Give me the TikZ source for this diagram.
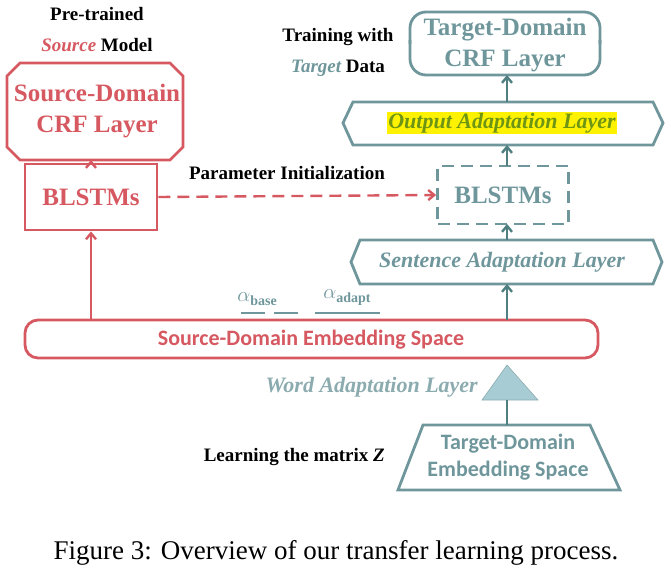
\documentclass[tikz,border=0pt]{standalone}
\usepackage{fontspec}
\setmainfont{Liberation Serif}
\newfontfamily\calib{Carlito}
\usetikzlibrary{arrows.meta}
\definecolor{rd}{HTML}{D65860}
\definecolor{tl}{HTML}{6E969B}
\definecolor{tla}{HTML}{4F7F80}
\definecolor{tri}{HTML}{A8CCD3}
\tikzset{
 rline/.style={draw=rd,line width=2.8pt},
 tline/.style={draw=tl,line width=2.8pt},
 rarr/.style={rd,line width=2.4pt,-{Straight Barb[length=6pt,width=10pt]}},
 tarr/.style={tla,line width=2.4pt,-{Straight Barb[length=6pt,width=10pt]}},
 lab/.style={font=\fontsize{19}{22}\selectfont\bfseries,align=center,inner sep=0},
 big/.style={font=\fontsize{25}{31}\selectfont\bfseries,align=center,inner sep=0},
 cal/.style={font=\fontsize{22}{27}\calib\bfseries,align=center,inner sep=0},
 ital/.style={font=\fontsize{22}{26}\selectfont\bfseries\itshape,inner sep=0},
}
\begin{document}
\begin{tikzpicture}[x=1pt,y=-1pt]
\useasboundingbox (0,0) rectangle (671,576);
% left column
\node[lab] (pt) at (97,14) {Pre-trained};
\node[lab] (sm) at (97,45) {\textcolor{rd}{\itshape Source} Model};
\draw[rline] (20,63) -- (170,63) -- (183,76) -- (183,147) -- (170,160) -- (20,160) -- (7,147) -- (7,76) -- cycle;
\node[big,text=rd] (scrf) at (97,111) {Source-Domain\\CRF Layer};
\node[rline,minimum width=132pt,minimum height=66pt,inner sep=0] (sb) at (91,197) {};
\node[big,text=rd] at (91,197) {BLSTMs};
\draw[rline,rounded corners=13pt] (25,320) rectangle (598,358);
\node[cal,text=rd] (emb) at (311,340) {Source-Domain Embedding Space};
\coordinate (e1) at (91,320);
\coordinate (c1) at (91,160);
\draw[rarr] (e1) -- (sb.south);
\draw[rarr] (sb.north) -- (c1);
% parameter init
\node[lab] (pi) at (287,173) {Parameter Initialization};
\node[draw=tl,dashed,dash pattern=on 12pt off 7pt,line width=2.8pt,minimum width=131pt,minimum height=58pt,inner sep=0] (tb) at (503,195) {};
\node[big,text=tl] at (503,195) {BLSTMs};
\draw[rarr,dash pattern=on 12pt off 7pt] (sb.east) -- (tb.west);
% right column
\node[lab] (tw) at (338,37) {Training with};
\node[lab] (td) at (338,68) {\textcolor{tl}{\itshape Target} Data};
\draw[tline,rounded corners=16pt] (410,44) -- (410,12) -- (600,12) -- (600,44);
\draw[tline,rounded corners=16pt] (600,40) -- (600,75) -- (410,75) -- (410,40);
\node[big,text=tl] (tcrf) at (505,45) {Target-Domain\\CRF Layer};
\draw[tline] (353,102) -- (653,102) -- (663,123) -- (653,145) -- (353,145) -- (343,123) -- cycle;
\node[ital,fill=yellow,inner sep=1pt,text={rgb,255:red,110;green,150;blue,20}] (oal) at (502,123) {Output Adaptation Layer};
\draw[tline] (360,240) -- (653,240) -- (662,262) -- (653,284) -- (360,284) -- (351,262) -- cycle;
\node[ital,text=tl] (sal) at (502,262) {Sentence Adaptation Layer};
\coordinate (o1) at (507,102); \coordinate (o2) at (507,75);
\coordinate (o3) at (507,145); \coordinate (o4) at (507,166);
\coordinate (o5) at (507,240); \coordinate (o6) at (507,224);
\coordinate (o7) at (507,320); \coordinate (o8) at (507,284);
\draw[tarr] (o1) -- (o2);
\draw[tarr] (o4) -- (o3);
\draw[tarr] (o5) -- (o6);
\draw[tarr] (o7) -- (o8);
% alphas
\node[font=\fontsize{21}{22}\selectfont\bfseries,text=tl,inner sep=0] (ab) at (257,299) {$\alpha$\raisebox{-4pt}{\fontsize{14}{14}\selectfont base}};
\node[font=\fontsize{21}{22}\selectfont\bfseries,text=tl,inner sep=0] (aa) at (347,298) {$\alpha$\raisebox{-4pt}{\fontsize{14}{14}\selectfont adapt}};
\draw[tl,line width=2.4pt] (241,313) -- (265,313) (274,313) -- (298,313) (315,313) -- (380,313);
% word adaptation
\draw[draw=tl!80,fill=tri,line width=0.6pt] (507,365) -- (538,400) -- (482,400) -- cycle;
\coordinate (tt) at (507,400);
\node[ital,text=tl!80,anchor=east] (wal) at (478,387) {Word Adaptation Layer};
\draw[tline] (423,425) -- (590,425) -- (620,490) -- (398,490) -- cycle;
\node[cal,text=tl] (temb) at (508,457) {Target-Domain\\Embedding Space};
\coordinate (tz) at (507,425);
\draw[tla,line width=2.4pt] (tz) -- (tt);
\node[lab,anchor=east] (lz) at (385,457) {Learning the matrix \textit{Z}};
\node[font=\fontsize{27}{30}\selectfont,inner sep=0] (cap) at (336,553) {Figure 3: Overview of our transfer learning process.};
\end{tikzpicture}
\end{document}
